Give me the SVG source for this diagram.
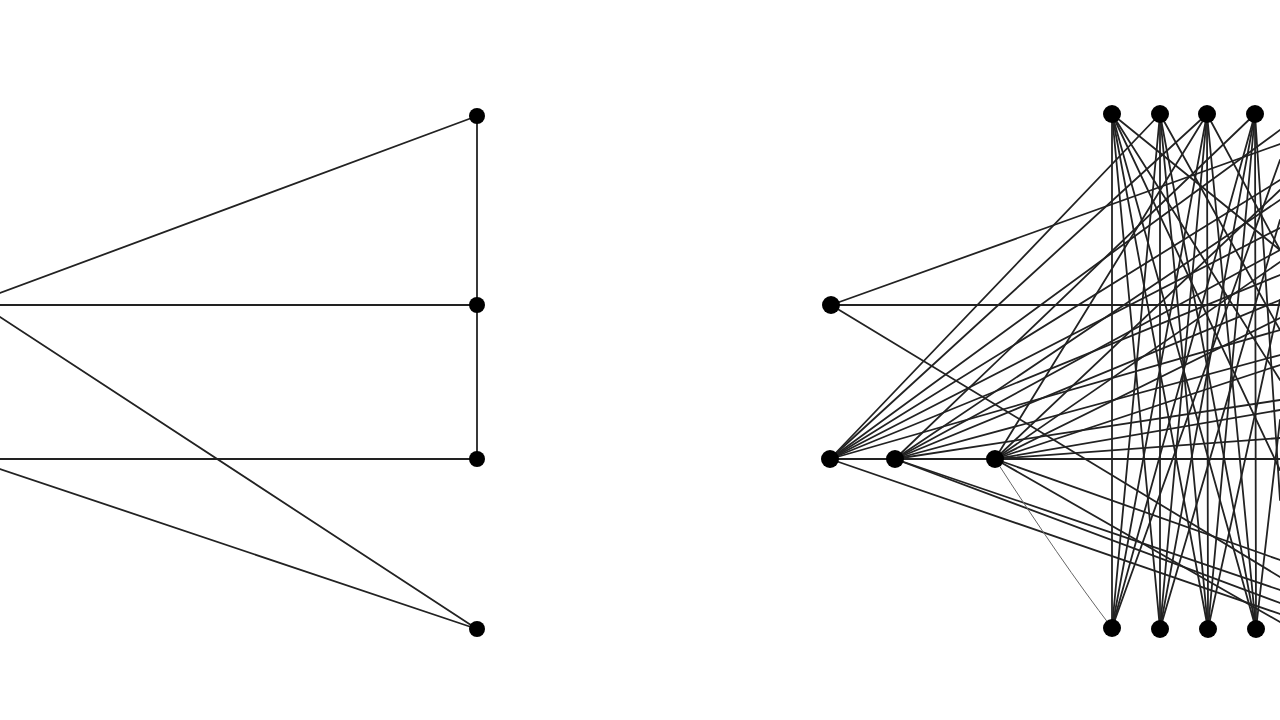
<svg xmlns="http://www.w3.org/2000/svg" width="1280" height="720" viewBox="0 0 1280 720">
<style>
.e{stroke:#222;stroke-width:1.8;fill:none;stroke-linecap:round}
.t{stroke:#666;stroke-width:1;fill:none}
.n{fill:#000}
</style>
<rect width="1280" height="720" fill="#fff"/>
<g id="connectors">
<!-- left graph -->
<line class="e" x1="0" y1="293" x2="477" y2="116"/>
<line class="e" x1="0" y1="305" x2="477" y2="305"/>
<line class="e" x1="0" y1="317" x2="477" y2="629"/>
<line class="e" x1="0" y1="459" x2="477" y2="459"/>
<line class="e" x1="0" y1="469" x2="477" y2="629"/>
<line class="e" x1="477" y1="116" x2="477" y2="459"/>
<!-- right graph: from A -->
<line class="e" x1="831" y1="305" x2="1280" y2="144"/>
<line class="e" x1="831" y1="305" x2="1280" y2="305"/>
<line class="e" x1="831" y1="305" x2="1280" y2="577"/>
<!-- from B -->
<line class="e" x1="830" y1="459" x2="1280" y2="459"/>
<line class="e" x1="830" y1="459" x2="1280" y2="614"/>
<line class="e" x1="830" y1="459" x2="1160" y2="114"/>
<line class="e" x1="830" y1="459" x2="1207" y2="114"/>
<line class="e" x1="830" y1="459" x2="1280" y2="130"/>
<line class="e" x1="830" y1="459" x2="1280" y2="180"/>
<line class="e" x1="830" y1="459" x2="1280" y2="228"/>
<line class="e" x1="830" y1="459" x2="1280" y2="275"/>
<line class="e" x1="830" y1="459" x2="1280" y2="330"/>
<!-- from C -->
<line class="e" x1="895" y1="459" x2="1255" y2="114"/>
<line class="e" x1="895" y1="459" x2="1280" y2="200"/>
<line class="e" x1="895" y1="459" x2="1280" y2="250"/>
<line class="e" x1="895" y1="459" x2="1280" y2="300"/>
<line class="e" x1="895" y1="459" x2="1280" y2="355"/>
<line class="e" x1="895" y1="459" x2="1280" y2="400"/>
<line class="e" x1="895" y1="459" x2="1280" y2="590"/>
<line class="e" x1="895" y1="459" x2="1280" y2="603"/>
<!-- from D -->
<line class="e" x1="995" y1="459" x2="1207" y2="114"/>
<line class="e" x1="995" y1="459" x2="1280" y2="190"/>
<line class="e" x1="995" y1="459" x2="1280" y2="262"/>
<line class="e" x1="995" y1="459" x2="1280" y2="318"/>
<line class="e" x1="995" y1="459" x2="1280" y2="365"/>
<line class="e" x1="995" y1="459" x2="1280" y2="410"/>
<line class="e" x1="995" y1="459" x2="1280" y2="438"/>
<line class="e" x1="995" y1="459" x2="1280" y2="560"/>
<line class="e" x1="995" y1="459" x2="1280" y2="622"/>
<path class="t" d="M995 459 Q1060 560 1112 628"/>
<!-- top to bottom -->
<line class="e" x1="1112" y1="114" x2="1112" y2="628"/>
<line class="e" x1="1112" y1="114" x2="1160" y2="629"/>
<line class="e" x1="1112" y1="114" x2="1208" y2="629"/>
<line class="e" x1="1112" y1="114" x2="1256" y2="629"/>
<line class="e" x1="1112" y1="114" x2="1280" y2="380"/>
<line class="e" x1="1112" y1="114" x2="1280" y2="250"/>
<line class="e" x1="1112" y1="114" x2="1280" y2="470"/>
<line class="e" x1="1160" y1="114" x2="1112" y2="628"/>
<line class="e" x1="1160" y1="114" x2="1160" y2="629"/>
<line class="e" x1="1160" y1="114" x2="1256" y2="629"/>
<line class="e" x1="1160" y1="114" x2="1280" y2="330"/>
<line class="e" x1="1160" y1="114" x2="1208" y2="629"/>
<line class="e" x1="1207" y1="114" x2="1112" y2="628"/>
<line class="e" x1="1207" y1="114" x2="1160" y2="629"/>
<line class="e" x1="1207" y1="114" x2="1208" y2="629"/>
<line class="e" x1="1207" y1="114" x2="1256" y2="629"/>
<line class="e" x1="1207" y1="114" x2="1280" y2="250"/>
<line class="e" x1="1255" y1="114" x2="1160" y2="629"/>
<line class="e" x1="1255" y1="114" x2="1208" y2="629"/>
<line class="e" x1="1255" y1="114" x2="1256" y2="629"/>
<line class="e" x1="1255" y1="114" x2="1280" y2="500"/>
<line class="e" x1="1255" y1="114" x2="1112" y2="628"/>
<line class="e" x1="1280" y1="220" x2="1160" y2="629"/>
<line class="e" x1="1280" y1="300" x2="1208" y2="629"/>
<line class="e" x1="1280" y1="420" x2="1256" y2="629"/>
<line class="e" x1="1280" y1="160" x2="1112" y2="628"/>
</g>
<g id="left-nodes">
<circle id="L1" class="n" cx="477" cy="116" r="8"/>
<circle id="L2" class="n" cx="477" cy="305" r="8"/>
<circle id="L3" class="n" cx="477" cy="459" r="8"/>
<circle id="L4" class="n" cx="477" cy="629" r="8"/>
</g>
<g id="right-nodes">
<circle id="A" class="n" cx="831" cy="305" r="9"/>
<circle id="B" class="n" cx="830" cy="459" r="9"/>
<circle id="C" class="n" cx="895" cy="459" r="9"/>
<circle id="D" class="n" cx="995" cy="459" r="9"/>
<circle id="T1" class="n" cx="1112" cy="114" r="9"/>
<circle id="T2" class="n" cx="1160" cy="114" r="9"/>
<circle id="T3" class="n" cx="1207" cy="114" r="9"/>
<circle id="T4" class="n" cx="1255" cy="114" r="9"/>
<circle id="B1" class="n" cx="1112" cy="628" r="9"/>
<circle id="B2" class="n" cx="1160" cy="629" r="9"/>
<circle id="B3" class="n" cx="1208" cy="629" r="9"/>
<circle id="B4" class="n" cx="1256" cy="629" r="9"/>
</g>
</svg>
